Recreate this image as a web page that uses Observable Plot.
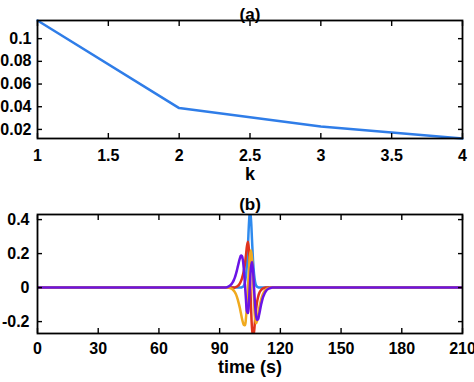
<!DOCTYPE html>
<html>
<head>
<meta charset="utf-8">
<script src="https://cdn.jsdelivr.net/npm/d3@7"></script>
<script src="https://cdn.jsdelivr.net/npm/@observablehq/plot@0.6"></script>
<style>
  html, body { margin: 0; padding: 0; background: white; }
  #chart svg { display: block; }
</style>
</head>
<body>
<div id="chart"></div>
<script>
// Panel (a)
const kValues = [1, 2, 3, 4];
const errValues = [0.116, 0.0388, 0.0226, 0.012];
const kTicks = [1, 1.5, 2, 2.5, 3, 3.5, 4];
const errTicks = [0.02, 0.04, 0.06, 0.08, 0.1];

// Panel (b)
const timeGrid = [0, 92, 92.5, 93, 93.5, 94, 94.5, 95, 95.5, 96, 96.5, 97, 97.5, 98, 98.5, 99, 99.5, 100, 100.5,
  101, 101.5, 102, 102.5, 103, 103.5, 104, 104.5, 105, 105.5, 106, 106.5, 107, 107.5, 108, 108.5, 109, 109.5,
  110, 110.5, 111, 111.5, 112, 112.5, 113, 113.5, 114, 114.5, 115, 115.5, 116, 116.5, 117, 117.5, 118, 210];
const series1Vals = [0, 0, 0, 0, 0, 0, 0, 0, 0, 0, 0, 0, 0, 0, 0, 0, 0, 0, 0,
  0.002, 0.005, 0.012, 0.03, 0.07, 0.14, 0.25, 0.38, 0.46, 0.40, 0.28, 0.16, 0.08, 0.035, 0.013, 0.005, 0.002, 0,
  0, 0, 0, 0, 0, 0, 0, 0, 0, 0, 0, 0, 0, 0, 0, 0, 0, 0];
const series2Vals = [0, 0, 0, 0, 0, 0, 0, 0, 0, 0, 0, 0, 0, 0.003, 0.006, 0.01, 0.016, 0.025, 0.037,
  0.053, 0.075, 0.10, 0.14, 0.19, 0.245, 0.27, 0.22, 0.06, -0.11, -0.24, -0.29, -0.26, -0.19, -0.13, -0.085, -0.055, -0.035,
  -0.022, -0.014, -0.008, -0.004, -0.002, 0, 0, 0, 0, 0, 0, 0, 0, 0, 0, 0, 0, 0];
const series3Vals = [0, 0, 0, 0, 0, 0, 0, -0.002, -0.004, -0.007, -0.012, -0.018, -0.027, -0.038, -0.053, -0.072, -0.095, -0.12, -0.15,
  -0.18, -0.205, -0.22, -0.22, -0.18, -0.10, 0.0, 0.10, 0.19, 0.22, 0.17, 0.06, -0.08, -0.18, -0.21, -0.195, -0.16, -0.125,
  -0.095, -0.07, -0.05, -0.035, -0.024, -0.016, -0.01, -0.006, -0.004, -0.002, -0.001, 0, 0, 0, 0, 0, 0, 0];
const series4Vals = [0, 0, 0, 0, 0.002, 0.004, 0.007, 0.011, 0.016, 0.023, 0.032, 0.044, 0.059, 0.078, 0.10, 0.125, 0.15, 0.172, 0.188,
  0.185, 0.16, 0.10, 0.02, -0.07, -0.14, -0.15, -0.08, 0.03, 0.12, 0.15, 0.10, 0.0, -0.10, -0.165, -0.19, -0.185, -0.16,
  -0.13, -0.10, -0.075, -0.055, -0.04, -0.028, -0.019, -0.012, -0.008, -0.005, -0.003, -0.001, 0, 0, 0, 0, 0, 0];
const seriesNames = ["s1", "s2", "s3", "s4"];
const seriesColors = ["#2E8AEE", "#E0331C", "#F0AA1E", "#6A14E6"];
const timeTicks = [0, 30, 60, 90, 120, 150, 180, 210];
const ampTicks = [-0.2, 0, 0.2, 0.4];

const font = "'Liberation Sans', Arial, Helvetica, sans-serif";
const style = {fontFamily: font, fontWeight: "bold", fontSize: "16px", color: "black", background: "white"};

const aData = kValues.map((k, i) => ({k, v: errValues[i]}));

const chartA = Plot.plot({
  width: 474, height: 190,
  marginLeft: 37, marginRight: 12, marginTop: 20, marginBottom: 52,
  style,
  x: {domain: [1, 4]},
  y: {domain: [0.012, 0.116]},
  marks: [
    Plot.line(aData, {x: "k", y: "v", stroke: "#2F7DE8", strokeWidth: 2.5}),
    Plot.frame({stroke: "black", strokeWidth: 1.8}),
    Plot.axisX(kTicks, {anchor: "bottom", tickSize: 0, tickPadding: 11, tickFormat: d => String(d), label: null}),
    Plot.axisX(kTicks, {anchor: "bottom", text: null, tickSize: 5, dy: -5, label: null, strokeWidth: 1.4}),
    Plot.axisX(kTicks, {anchor: "top", text: null, tickSize: 5, dy: 5, label: null, strokeWidth: 1.4}),
    Plot.axisY(errTicks, {anchor: "left", tickSize: 0, tickPadding: 6, tickFormat: d => String(d), label: null}),
    Plot.axisY(errTicks, {anchor: "left", text: null, tickSize: 5, dx: 5, label: null, strokeWidth: 1.4}),
    Plot.axisY(errTicks, {anchor: "right", text: null, tickSize: 5, dx: -5, label: null, strokeWidth: 1.4}),
    Plot.text(["(a)"], {frameAnchor: "top", dy: -13, fontSize: 17, fontWeight: "bold"}),
    Plot.text(["k"], {frameAnchor: "bottom", dy: 41, fontSize: 18, fontWeight: "bold"})
  ]
});

const bData = [];
const seriesVals = [series1Vals, series2Vals, series3Vals, series4Vals];
seriesNames.forEach((name, s) => {
  timeGrid.forEach((t, i) => bData.push({series: name, t, v: seriesVals[s][i]}));
});

const chartB = Plot.plot({
  width: 474, height: 192,
  marginLeft: 37, marginRight: 12, marginTop: 24, marginBottom: 49,
  style,
  x: {domain: [0, 210]},
  y: {domain: [-0.27, 0.43]},
  color: {domain: seriesNames, range: seriesColors},
  marks: [
    Plot.line(bData, {x: "t", y: "v", z: "series", stroke: "series", strokeWidth: 2.5, curve: "catmull-rom", clip: true}),
    Plot.frame({stroke: "black", strokeWidth: 1.8}),
    Plot.axisX(timeTicks, {anchor: "bottom", tickSize: 0, tickPadding: 9, tickFormat: d => String(d), label: null}),
    Plot.axisX(timeTicks, {anchor: "bottom", text: null, tickSize: 5, dy: -5, label: null, strokeWidth: 1.4}),
    Plot.axisX(timeTicks, {anchor: "top", text: null, tickSize: 5, dy: 5, label: null, strokeWidth: 1.4}),
    Plot.axisY(ampTicks, {anchor: "left", tickSize: 0, tickPadding: 8, tickFormat: d => String(d), label: null}),
    Plot.axisY(ampTicks, {anchor: "left", text: null, tickSize: 5, dx: 5, label: null, strokeWidth: 1.4}),
    Plot.axisY(ampTicks, {anchor: "right", text: null, tickSize: 5, dx: -5, label: null, strokeWidth: 1.4}),
    Plot.text(["(b)"], {frameAnchor: "top", dy: -17, fontSize: 17, fontWeight: "bold"}),
    Plot.text(["time (s)"], {frameAnchor: "bottom", dy: 39, fontSize: 18, fontWeight: "bold"})
  ]
});

document.getElementById("chart").append(chartA, chartB);
</script>
</body>
</html>
